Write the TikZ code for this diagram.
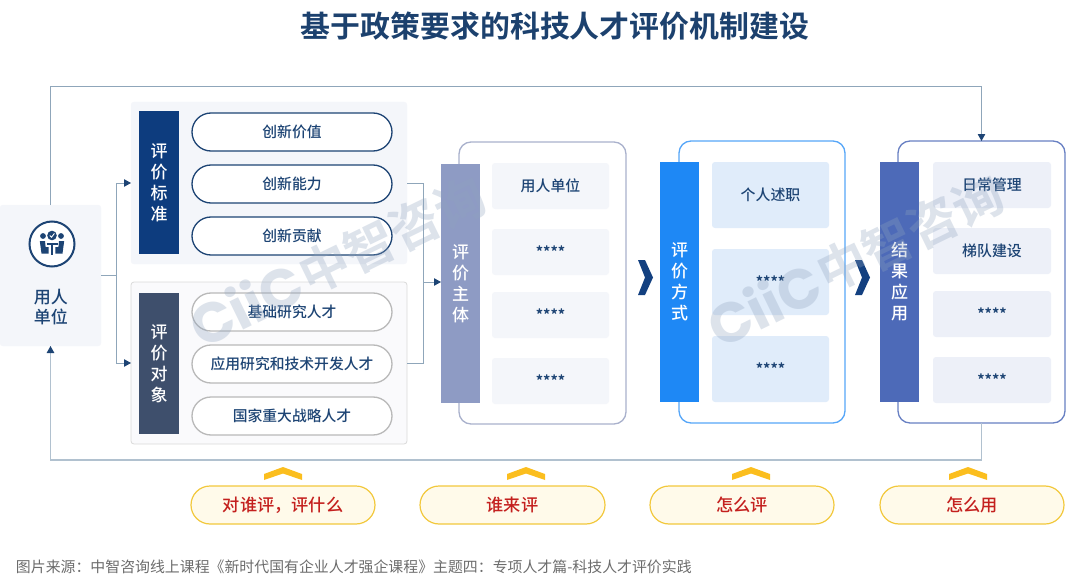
\documentclass[tikz,border=0pt]{standalone}
\usepackage{fontspec}
\setmainfont{Noto Sans CJK SC}[BoldFont={Noto Sans CJK SC Bold}]
\newfontfamily\medfont{Noto Sans CJK SC Medium}
\newfontfamily\wmfont{Poppins}[BoldFont={Poppins Bold}]
\usetikzlibrary{arrows.meta}
\definecolor{navy}{HTML}{1D4474}
\definecolor{linegrey}{HTML}{8FA6BA}
\definecolor{panelbg}{HTML}{F4F6FA}
\definecolor{wmcol}{HTML}{8FA3BE}
\tikzset{
 every node/.style={inner sep=0pt,outer sep=0pt,text=navy},
 conn/.style={draw=linegrey,line width=.9pt},
 connlight/.style={draw=linegrey!70,line width=1.1pt},
 arrowtip/.style={-{Triangle[length=7pt,width=7.5pt,fill=navy,color=navy]}},
 panelA/.style={rounded corners=3pt,fill=panelbg,draw=panelbg},
 panelB/.style={rounded corners=3pt,fill=white!50!panelbg,draw=gray!30,line width=.8pt},
 pill/.style={rounded corners=19pt,fill=white,line width=1.3pt,font=\medfont\fontsize{14.8}{16}\selectfont},
 vbar/.style={text=white,align=center,font=\medfont\fontsize{17}{21}\selectfont},
 frameshape/.style={rounded corners=12pt,fill=white,line width=1.3pt},
 cell/.style={rounded corners=3pt,font=\medfont\fontsize{14.9}{16}\selectfont},
 stars/.style={cell,font=\bfseries\fontsize{14.5}{16}\selectfont},
 notepill/.style={rounded corners=19pt,fill=noteyellow,draw=noteedge,line width=1.2pt,text=notered,font=\medfont\fontsize{17.2}{18}\selectfont},
 capshape/.style={fill=capgold,draw=none},
 chev/.style={fill=chevblue,draw=none},
 wm/.style={rotate=26,text=wmcol,opacity=.3,font=\wmfont\bfseries\fontsize{56}{56}\selectfont},
 wmz/.style={rotate=26,text=wmcol,opacity=.3,font=\bfseries\fontsize{50}{50}\selectfont}
}
\definecolor{noteyellow}{HTML}{FFFAEA}
\definecolor{noteedge}{HTML}{F2C83C}
\definecolor{notered}{HTML}{C4201E}
\definecolor{capgold}{HTML}{FBBE1E}
\definecolor{chevblue}{HTML}{134080}
\newcommand\bx[7]{\node[#1,minimum width={#4-#2},minimum height={#5-#3}] (#6) at ({(#2+#4)/2},{(#3+#5)/2}) {#7};}
\newcommand\upcap[1]{\fill[capshape] (#1-19,480) -- (#1-19,474) -- (#1,467) -- (#1+19,474) -- (#1+19,480) -- (#1,473.5) -- cycle;}
\newcommand\rchev[1]{\fill[chev] (#1,260) -- (#1+7,260) -- (#1+15,277.5) -- (#1+7,295) -- (#1,295) -- (#1+7,277.5) -- cycle;}
\begin{document}
\begin{tikzpicture}[x=1pt,y=-1pt]
\useasboundingbox (0,0) rectangle (1080,586);
\node[font=\bfseries\fontsize{29.9}{32}\selectfont,text=navy!95!black] (title) at (555,26) {基于政策要求的科技人才评价机制建设};

% left box
\bx{panelA}{0}{205}{101}{346}{user}{}
\node[align=center,font=\medfont\fontsize{17}{20}\selectfont] (userlab) at (51,307) {用人\\单位};
\node[circle,draw=navy,fill=white,line width=2pt,minimum size=45pt] (icon) at (52,244) {};
\fill[navy] (43,236) circle (2.9) (61,236) circle (2.9) (52,235.5) circle (4.8);
\draw[white,line width=.9pt] (49.8,235.5) -- (51.5,237.3) -- (54.4,233.4);
\fill[navy] (39.8,241) -- (45,241) -- (45.6,247) -- (48.6,247) -- (48.6,253.5) -- (41.5,253.5) -- cycle;
\fill[navy] (64.2,241) -- (59,241) -- (58.4,247) -- (55.4,247) -- (55.4,253.5) -- (62.5,253.5) -- cycle;
\draw[navy,line width=1.1pt] (46.5,244) -- (57.5,244) (52,244) -- (52,255);

% left panels
\bx{panelA}{131}{102}{407}{264}{tp}{}
\bx{panelB}{131}{282}{407}{444}{bp}{}
\definecolor{bartop}{HTML}{0D3C7E}
\definecolor{barbot}{HTML}{3E4F6C}
\definecolor{bartwo}{HTML}{8E9BC4}
\bx{vbar,fill=bartop}{139}{111}{179}{254}{tbar}{评\\价\\标\\准}
\bx{vbar,fill=barbot}{139}{293}{179}{434}{bbar}{评\\价\\对\\象}
\bx{pill,draw=navy}{192}{113}{392}{151}{t1}{创新价值}
\bx{pill,draw=navy}{192}{165}{392}{203}{t2}{创新能力}
\bx{pill,draw=navy}{192}{217}{392}{255}{t3}{创新贡献}
\bx{pill,draw=gray!55}{192}{293}{392}{331}{b1}{基础研究人才}
\bx{pill,draw=gray!55}{192}{345}{392}{383}{b2}{应用研究和技术开发人才}
\bx{pill,draw=gray!55}{192}{397}{392}{435}{b3}{国家重大战略人才}

% frame 2
\definecolor{frametwo}{HTML}{A9B1CC}
\bx{frameshape,draw=frametwo}{459}{142}{626}{424}{p2}{}
\bx{vbar,fill=bartwo}{441}{164}{480}{403}{bar2}{评\\价\\主\\体}
\bx{cell,fill=panelbg}{492}{163}{609}{209}{c21}{用人单位}
\bx{stars,fill=panelbg}{492}{229}{609}{275}{c22}{****}
\bx{stars,fill=panelbg}{492}{292}{609}{338}{c23}{****}
\bx{stars,fill=panelbg}{492}{358}{609}{404}{c24}{****}

% frame 3
\definecolor{sky}{HTML}{1E88F5}
\definecolor{skybg}{HTML}{E0ECFA}
\bx{frameshape,draw=sky!75}{679}{141}{845}{423}{p3}{}
\bx{vbar,fill=sky}{660}{162}{699}{402}{bar3}{评\\价\\方\\式}
\bx{cell,fill=skybg}{712}{162}{829}{228}{c31}{个人述职}
\bx{stars,fill=skybg}{712}{249}{829}{315}{c32}{****}
\bx{stars,fill=skybg}{712}{336}{829}{402}{c33}{****}

% frame 4
\definecolor{royal}{HTML}{4D6AB8}
\definecolor{royalbg}{HTML}{EDF0F8}
\bx{frameshape,draw=royal!85}{898}{141}{1065}{423}{p4}{}
\bx{vbar,fill=royal}{880}{162}{919}{402}{bar4}{结\\果\\应\\用}
\bx{cell,fill=royalbg}{933}{162}{1051}{208}{c41}{日常管理}
\bx{cell,fill=royalbg}{933}{228}{1051}{274}{c42}{梯队建设}
\bx{stars,fill=royalbg}{933}{291}{1051}{337}{c43}{****}
\bx{stars,fill=royalbg}{933}{357}{1051}{403}{c44}{****}

% connectors
\coordinate (j1) at (116,275);
\coordinate (j2) at (423,282);
\draw[conn] (user.east |- j1) -- (j1);
\draw[conn,arrowtip] (j1) |- (tp.west);
\draw[conn,arrowtip] (j1) |- (bp.west);
\draw[conn] (tp.east) -| (j2);
\draw[conn] (bp.east) -| (j2);
\draw[conn,arrowtip] (j2) -- (bar2.west |- j2);
\coordinate (looptop) at (0,86);
\coordinate (loopbot) at (0,460);
\draw[conn,arrowtip] (user.north) -- (user.north |- looptop) -- (p4.north |- looptop) -- (p4.north);
\draw[connlight,arrowtip] (p4.south) -- (p4.south |- loopbot) -- (user.south |- loopbot) -- (user.south);

% chevrons
\rchev{638}
\rchev{855}

% bottom notes
\upcap{283}\upcap{526}\upcap{751}\upcap{968}
\bx{notepill}{191}{486}{375}{524}{n1}{对谁评，评什么}
\bx{notepill}{420}{486}{605}{524}{n2}{谁来评}
\bx{notepill}{650}{486}{834}{524}{n3}{怎么评}
\bx{notepill}{880}{486}{1064}{524}{n4}{怎么用}

\node[anchor=west,text=gray!85!black,font=\fontsize{14.9}{16}\selectfont] (src) at (16,567) {图片来源：中智咨询线上课程《新时代国有企业人才强企课程》主题四：专项人才篇-科技人才评价实践};

% watermarks
\node[wm] (w1) at (246,304) {CiiC};
\node[wmz] (w2) at (392,235) {中智咨询};
\node[wm] (w3) at (764,304) {CiiC};
\node[wmz] (w4) at (910,233) {中智咨询};
\end{tikzpicture}
\end{document}
